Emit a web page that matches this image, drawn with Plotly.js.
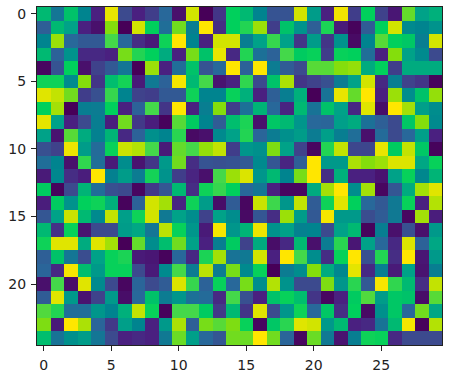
<!DOCTYPE html>
<html><head><meta charset="utf-8"><script src="https://cdn.plot.ly/plotly-3.0.1.min.js"></script>
<style>html,body{margin:0;padding:0;background:#fff}</style></head><body><div id="c" style="width:450px;height:377px"></div>
<script>
const row00=[5.5,3.5,5.7,4,1,9.5,2,1,1.7,3,0.5,9,0,1.5,6,5.5,4,2.3,2.3,9,4.8,1,9.7,1.7,6,1.8,0.7,7.5,5,5.3];
const row01=[2.7,5.5,5,1,0.5,8,0,9,6,3.2,7.7,3.8,10,1.3,6,6.5,8.3,1.7,5.7,4.5,2.7,6.4,0.8,0.1,2.6,6,9,4.2,4,4.5];
const row02=[4,8.3,3,2.5,2.5,7,3,1.3,0.8,6.2,10,4,1,9,9,3.8,5,6.8,5,1.5,4.8,1.5,4.5,0.3,4,7.3,6,5.8,3.8,9];
const row03=[5.5,2.8,4.5,1.2,1.2,1,7.8,6.5,6,5.2,1,7.8,5.7,9.5,1.2,6.5,3.3,2.8,7,5.9,6.1,1.7,6.1,6,3.2,1,8,5,4.2,2];
const row04=[0.2,2.3,6,0.5,1.8,2.5,3.5,0,8.3,1,3.2,5.7,2.3,3,10,2.8,10,3.7,2.6,2,7.3,7.3,8,8.2,5.2,6,1.7,5.2,5.2,5.2];
const row05=[6.2,6.2,4.2,8,1.5,5.6,6.3,0.8,3.6,2.8,9.8,5.5,7,0.6,1,6.7,2,5.7,8.5,1.5,1.8,2.2,3.7,5,9,1.2,3.8,1.8,1.5,0.1];
const row06=[9.3,8.8,7.7,1.7,2.2,6.8,4,1.8,1.7,2.5,2.5,6.2,4,4,6.1,5.3,1,2.7,3.8,5.3,0,3.4,9.5,7.5,10,1,8.3,4.3,5.7,8.2];
const row07=[6,8.4,0,3.8,3.7,6,1,2.8,7,1.5,10,1,3.8,8,1.7,3.3,5.4,3,1.1,5.5,3.4,5.7,5,1.2,9.3,0.4,10,8.4,4.9,4.3];
const row08=[9.4,5,1,2,3.8,0.9,7.7,1.6,0.9,0.1,7.3,5.9,4,2.6,5.6,6.4,0.5,5.8,5.5,4.6,3,2.9,4.9,5.2,3.3,2.7,2,5.8,8,4.2];
const row09=[5,0.6,7.3,5.2,3.9,5.4,1.2,2.8,4.4,4,6.6,0.3,0.5,4.2,5,6.5,2.9,3.7,4.4,4.8,3.7,4.9,3.8,3.2,0.5,3.1,2,3,4.9,1];
const row10=[2.2,1.8,9.6,4.8,3.1,6.1,8.9,8.6,7,0.8,7.5,7,8.2,8.8,1.7,4.6,4.4,7.9,5,1.8,0.2,6.5,8.8,1.9,1.9,9.5,5.9,8.8,5.8,0.1];
const row11=[3.2,4,0.5,6.7,3.2,0.8,4.3,0.6,1.5,4.7,7.7,1.3,2.3,2.2,2.3,2.5,4.2,2.4,1.1,2.7,10,4.7,4.7,8.5,8,8.3,9.2,9.2,5.1,6.1];
const row12=[0.8,4.1,1.3,0.9,10,3.9,4.8,3.7,6.3,4.5,1.7,1.1,0.5,7,8.3,9.2,4.6,5.5,4,7.8,10,1.3,5.3,1,1,0.6,5,6.1,4.1,5.4];
const row13=[5.9,0.1,2,5.4,3.2,2.2,2,0.2,1.6,2.4,5.5,1.3,6.2,6.8,6,3,3.5,1,0.2,0.2,5.2,8.4,10,4.3,8.4,0.2,2.4,5.2,8.4,9.3];
const row14=[0.9,5.9,4.5,6,6.2,5.3,0.1,2.8,9,8.4,1.1,6.2,4.8,0.4,2.6,0.2,8.9,6.9,4.6,8.8,2.6,6.2,9.3,6,3,2.5,3.6,6.1,1,8.6];
const row15=[2.4,5,8.9,5.5,4.2,8.8,4.9,6.2,9,3.6,5,4.3,1.8,5,4.3,0.3,2.4,1.3,8.3,4.8,2.5,9.8,4.7,4.7,2.1,2.6,3.6,0.2,8.4,0.9];
const row16=[5.5,1.4,6.1,0.6,2,2,4.8,5.1,3.5,8.7,6.1,4.6,0.8,9.8,4.6,5.4,9.6,4.5,5,3.9,4,2,5,5.5,0.1,3.8,0.5,2.2,0.5,4.7];
const row17=[6.2,9.3,9.3,5.2,9.3,8.4,0,7.5,4.3,5.6,7.7,5,1,3.8,5.9,1.8,5.2,0.4,1.2,5.5,0.5,3.7,6.6,0.7,5,3,1.2,9.2,2.8,5.1];
const row18=[2.7,5.7,3.5,2.1,5,6.1,6.4,0.8,0.7,0.1,3,1.2,6.4,8.4,3.4,3.6,9,1,10,7,4.3,1.3,6.1,10,2.2,6.5,1.3,10,0.7,4.7];
const row19=[2.9,1.2,9.8,5.6,4.7,6.1,6.1,2,0.8,4.2,7,3.7,8.7,3.7,7.8,4.2,6.1,0,3.7,4.3,8,5.2,4.1,9.4,1.2,3.8,0.8,5,0.6,3.8];
const row20=[0.5,7,0.4,9.3,4.2,2,0.2,2.9,2,2.6,9.2,6.8,2.8,6.1,3,7.8,4.3,8.6,4.5,2,2,7.9,4.6,6.6,2.5,9.8,6.7,5.5,1.3,8.8];
const row21=[2.6,9.3,4.7,0.6,1.8,4.7,0.4,3,5.7,3.7,4.6,3.3,3.1,1.2,7,2.2,1,5.7,6.1,5.6,1.5,0.2,1,5.9,7.2,4.8,5.8,5.7,0.4,7.3];
const row22=[7.2,6.5,3.2,3.2,4.6,4,5.3,8.8,6.1,0.1,7,7,5.9,1.6,5.5,1.5,9.3,2,4.6,6.2,3,5.8,1.3,6,0.3,4.4,5.8,3,7.7,5.1];
const row23=[7.9,0.8,10,8.5,2.9,1.6,4.9,4,1,4.7,8.5,2.7,7.8,7.3,7.9,6.1,0.2,5.8,6.6,9.3,9,4.7,5.5,1,1.2,3.4,5.5,9.8,0.1,8.6];
const row24=[5.6,3.4,4.4,4.8,3.5,2,1,1.2,1,3.6,7.6,4.9,3,2.4,7.7,7.6,10,7.7,2.9,0.2,7.6,3.6,0.6,3.8,6.2,6.1,1.2,2,2,2];
const values=[row00,row01,row02,row03,row04,row05,row06,row07,row08,row09,row10,row11,row12,row13,row14,row15,row16,row17,row18,row19,row20,row21,row22,row23,row24];
const tickX=[0,5,10,15,20,25];
const tickY=[0,5,10,15,20];
const palette=[[0,'#470058'],[0.1,'#4a2080'],[0.2,'#3c4a8e'],[0.3,'#28689a'],[0.4,'#00848f'],[0.5,'#00a288'],[0.6,'#00d05c'],[0.7,'#44d84a'],[0.8,'#84de0c'],[0.9,'#d2e400'],[1,'#ffe600']];
const axis={showgrid:false,zeroline:false,ticks:'outside',ticklen:5,tickwidth:1,tickcolor:'#222',showline:true,mirror:true,linecolor:'#222',linewidth:1,ticklabelstandoff:2,tickfont:{family:'DejaVu Sans',size:14,color:'#222'}};
Plotly.newPlot('c',[{type:'heatmap',z:values,zmin:0,zmax:10,colorscale:palette,showscale:false,xgap:0,ygap:0}],{
 width:450,height:377,margin:{l:37,r:8,t:7,b:32,pad:0},paper_bgcolor:'#fff',plot_bgcolor:'#fff',
 xaxis:Object.assign({},axis,{range:[-0.5,29.5],tickvals:tickX,ticktext:tickX.map(String)}),
 yaxis:Object.assign({},axis,{range:[24.5,-0.5],tickvals:tickY,ticktext:tickY.map(String)})
},{staticPlot:true,displayModeBar:false});
</script></body></html>
